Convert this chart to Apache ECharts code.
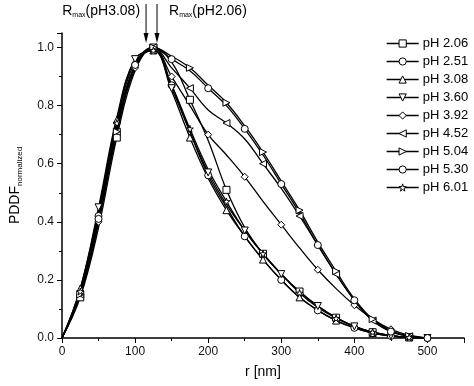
<!DOCTYPE html>
<html>
<head>
<meta charset="utf-8">
<script src="https://cdn.jsdelivr.net/npm/echarts@6/dist/echarts.min.js"></script>
<style>html,body{margin:0;padding:0;background:#fff}#c{width:474px;height:386px}</style>
</head>
<body>
<div id="c"></div>
<script>
// r grid (nm)
const rValues = [0,25,50,75,100,125,150,175,200,225,250,275,300,325,350,375,400,425,450,475,500];
const seriesNames = ['pH 2.06','pH 2.51','pH 3.08','pH 3.60','pH 3.92','pH 4.52','pH 5.04','pH 5.30','pH 6.01'];
const pH206 = [0,0.14,0.38,0.69,0.92,1.00,0.95,0.82,0.68,0.51,0.38,0.29,0.22,0.16,0.11,0.07,0.04,0.02,0.008,0.003,0];
const pH251 = [0,0.16,0.42,0.73,0.94,1.00,0.87,0.71,0.56,0.45,0.35,0.27,0.20,0.14,0.095,0.06,0.035,0.017,0.007,0.002,0];
const pH308 = [0,0.17,0.44,0.75,0.96,0.99,0.85,0.69,0.55,0.44,0.35,0.27,0.20,0.14,0.095,0.06,0.035,0.017,0.007,0.002,0];
const pH360 = [0,0.17,0.45,0.76,0.96,0.99,0.86,0.71,0.57,0.46,0.37,0.29,0.22,0.16,0.11,0.07,0.04,0.02,0.008,0.002,0];
const pH392 = [0,0.15,0.40,0.71,0.93,1.00,0.90,0.80,0.70,0.63,0.555,0.47,0.39,0.31,0.235,0.17,0.113,0.065,0.03,0.01,0];
const pH452 = [0,0.15,0.40,0.71,0.93,1.00,0.93,0.86,0.785,0.74,0.685,0.60,0.515,0.42,0.32,0.22,0.13,0.06,0.022,0.006,0];
const pH504 = [0,0.15,0.40,0.71,0.93,1.00,0.97,0.93,0.87,0.81,0.73,0.64,0.54,0.44,0.33,0.23,0.135,0.065,0.025,0.007,0];
const pH530 = [0,0.15,0.41,0.72,0.94,1.00,0.96,0.92,0.86,0.80,0.72,0.63,0.53,0.43,0.32,0.22,0.13,0.06,0.022,0.006,0];
const pH601 = [0,0.16,0.43,0.74,0.95,0.99,0.87,0.72,0.58,0.47,0.37,0.29,0.22,0.155,0.105,0.068,0.04,0.02,0.008,0.002,0];
const allValues = [pH206,pH251,pH308,pH360,pH392,pH452,pH504,pH530,pH601];
const xTickMax = 550;
const yTickMax = 1.05;
const peakLabels = ['pH3.08','pH2.06'];
const peakR = [115,130];

const symbols = [
  'rect','circle','triangle',
  'path://M0,0 L10,0 L5,9 Z',
  'diamond',
  'path://M0,5 L9,0 L9,10 Z',
  'path://M9,5 L0,0 L0,10 Z',
  'circle',
  'path://M50,0 L61,35 L98,35 L68,57 L79,91 L50,70 L21,91 L32,57 L2,35 L39,35 Z'
];
const phases = [1,0,1,0,0,1,1,0,1];

const chart = echarts.init(document.getElementById('c'), null, {renderer:'canvas'});
const FONT = 'Liberation Sans, Arial, sans-serif';

const series = allValues.map((vals, i) => ({
  name: seriesNames[i],
  type: 'line',
  smooth: 0.4,
  showAllSymbol: true,
  symbol: symbols[i],
  symbolSize: 7,
  lineStyle: {color:'#000', width:1.3},
  itemStyle: {color:'#fff', borderColor:'#000', borderWidth:1},
  emphasis: {disabled:true},
  data: vals.map((v, j) => {
    const item = {value:[rValues[j], v]};
    if ((j + phases[i]) % 2 !== 0 || j === 0) item.symbol = 'none';
    return item;
  })
}));

chart.setOption({
  animation: false,
  backgroundColor: '#fff',
  grid: {left:62, right:10, top:33, bottom:48, containLabel:false},
  legend: {
    orient:'vertical', left:381, top:32, itemWidth:32, itemHeight:9, itemGap:5,
    itemStyle:{color:'#fff', borderColor:'#000', borderWidth:1},
    lineStyle:{color:'#000', width:1.3},
    textStyle:{fontFamily:FONT, fontSize:13, color:'#000', padding:[0,0,0,-1]},
    data: seriesNames
  },
  xAxis: {
    type:'value', min:0, max:xTickMax, interval:100,
    name:'r [nm]', nameLocation:'middle', nameGap:27,
    nameTextStyle:{fontFamily:FONT, fontSize:14, color:'#000'},
    axisLine:{lineStyle:{color:'#000', width:1.5}},
    axisTick:{lineStyle:{color:'#000'}, length:5, inside:false},
    minorTick:{show:true, splitNumber:2, length:3, lineStyle:{color:'#000'}},
    axisLabel:{fontFamily:FONT, fontSize:12, color:'#111', showMaxLabel:false, margin:8},
    splitLine:{show:false}
  },
  yAxis: {
    type:'value', min:0, max:yTickMax, interval:0.2,
    name:'{a|PDDF}{b|normalized}', nameLocation:'middle', nameGap:38,
    nameTextStyle:{rich:{a:{fontFamily:FONT, fontSize:14, color:'#000'}, b:{fontFamily:FONT, fontSize:8, color:'#000', padding:[10,0,0,0]}}},
    axisLine:{show:true, lineStyle:{color:'#000', width:1.5}},
    axisTick:{show:true, lineStyle:{color:'#000'}, length:5},
    minorTick:{show:true, splitNumber:2, length:3, lineStyle:{color:'#000'}},
    axisLabel:{fontFamily:FONT, fontSize:12, color:'#111', showMaxLabel:false, formatter:v=>v.toFixed(1)},
    splitLine:{show:false}
  },
  series: series
});

// annotations with arrows tied to axis scale
const graphics = [];
peakR.forEach((r, k) => {
  const px = chart.convertToPixel({xAxisIndex:0, yAxisIndex:0}, [r, 1])[0];
  graphics.push({type:'line', shape:{x1:px, y1:4, x2:px, y2:40}, style:{stroke:'#000', lineWidth:1}});
  graphics.push({type:'polygon', shape:{points:[[px-2.5,33],[px+2.5,33],[px,43]]}, style:{fill:'#000'}});
  const txt = {
    type:'text',
    style:{
      text:'{a|R}{b|max}{a|(' + peakLabels[k] + ')}',
      rich:{a:{fontFamily:FONT, fontSize:14, fill:'#000'}, b:{fontFamily:FONT, fontSize:7, fill:'#000', padding:[8,0,0,0]}},
      textVerticalAlign:'top'
    },
    top: 4
  };
  if (k === 0) { txt.right = 474 - (px - 6); } else { txt.left = px + 12; }
  graphics.push(txt);
});
chart.setOption({graphic: graphics});
</script>
</body>
</html>
